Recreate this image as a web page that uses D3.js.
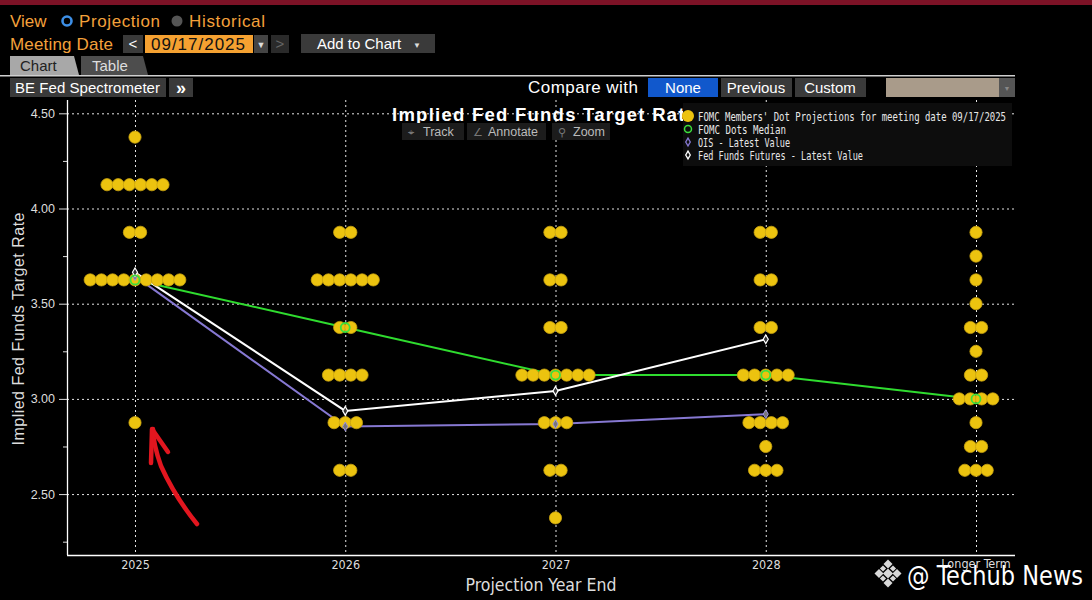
<!DOCTYPE html>
<html><head><meta charset="utf-8">
<script src="https://cdn.jsdelivr.net/npm/d3@7"></script>
<style>
html,body{margin:0;padding:0;background:#000;overflow:hidden}
svg{display:block}
</style></head><body>
<svg id="c" width="1092" height="600"></svg>
<script>
// ---------- DATA ----------
const categories = ["2025","2026","2027","2028","Longer Term"];
// FOMC dot projections: [rate, number of participants]
const dots2025 = [[4.375,1],[4.125,6],[3.875,2],[3.625,9],[2.875,1]];
const dots2026 = [[3.875,2],[3.625,6],[3.375,2],[3.125,4],[2.875,3],[2.625,2]];
const dots2027 = [[3.875,2],[3.625,2],[3.375,2],[3.125,7],[2.875,3],[2.625,2],[2.375,1]];
const dots2028 = [[3.875,2],[3.625,2],[3.375,2],[3.125,5],[2.875,4],[2.75,1],[2.625,3]];
const dotsLonger = [[3.875,1],[3.75,1],[3.625,1],[3.5,1],[3.375,2],[3.25,1],[3.125,2],[3.0,4],[2.875,1],[2.75,2],[2.625,3]];
const dotSets = [dots2025, dots2026, dots2027, dots2028, dotsLonger];
const medianValues = [3.625, 3.375, 3.125, 3.125, 3.0];
const oisValues = [3.645, 2.855, 2.868, 2.92];
const futuresValues = [3.665, 2.937, 3.042, 3.313];
const yMajorTicks = [2.5, 3.0, 3.5, 4.0, 4.5];
const yMinorTicks = [2.25, 2.75, 3.25, 3.75, 4.25];
const legendLabels = ["FOMC Members' Dot Projections for meeting date 09/17/2025","FOMC Dots Median","OIS - Latest Value","Fed Funds Futures - Latest Value"];

// ---------- SETUP ----------
const svg = d3.select("#c");
const orange = "#f4a13b";
const narrow = "'Liberation Sans Narrow','DejaVu Sans Condensed','Liberation Sans',sans-serif";
const sans = "'Liberation Sans',Arial,sans-serif";

const L = 67, R = 1015, T = 100, B = 555;
const y = d3.scaleLinear().domain([2.18, 4.57]).range([B, T]);
const x = d3.scalePoint().domain(categories).range([135, 976]);
const dotStep = 11.2, dotR = 6.1;

// ---------- HEADER ----------
svg.append("rect").attr("x",0).attr("y",0).attr("width",1092).attr("height",5).attr("fill","#7c1226");
const hdr = svg.append("g").attr("font-family",sans).attr("font-size",17);
hdr.append("text").attr("x",10).attr("y",27).attr("fill",orange).text("View");
hdr.append("circle").attr("cx",67).attr("cy",21).attr("r",4.5).attr("fill","#000").attr("stroke","#3d8fe6").attr("stroke-width",2.6);
hdr.append("text").attr("x",79).attr("y",27).attr("fill",orange).attr("textLength",81).text("Projection");
hdr.append("circle").attr("cx",177).attr("cy",21).attr("r",5.5).attr("fill","#555");
hdr.append("text").attr("x",189).attr("y",27).attr("fill",orange).attr("textLength",76).text("Historical");
hdr.append("text").attr("x",10).attr("y",50).attr("fill",orange).attr("textLength",103).text("Meeting Date");
hdr.append("rect").attr("x",123).attr("y",35).attr("width",20).attr("height",18).attr("fill","#3a3a3a");
hdr.append("text").attr("x",133).attr("y",49).attr("text-anchor","middle").attr("fill","#fff").attr("font-size",15).text("<");
hdr.append("rect").attr("x",145).attr("y",35).attr("width",108).attr("height",18).attr("fill","#f5a131");
hdr.append("text").attr("x",151).attr("y",50).attr("fill","#111").attr("font-size",17).attr("textLength",94).text("09/17/2025");
hdr.append("rect").attr("x",254).attr("y",35).attr("width",14).attr("height",18).attr("fill","#444");
hdr.append("text").attr("x",261).attr("y",48).attr("text-anchor","middle").attr("fill","#ddd").attr("font-size",9).text("▼");
hdr.append("rect").attr("x",271).attr("y",35).attr("width",18).attr("height",18).attr("fill","#2a2a2a");
hdr.append("text").attr("x",280).attr("y",49).attr("text-anchor","middle").attr("fill","#666").attr("font-size",15).text(">");
hdr.append("rect").attr("x",301).attr("y",34).attr("width",134).attr("height",19).attr("fill","#3a3a3a");
hdr.append("text").attr("x",317).attr("y",49).attr("fill","#fff").attr("font-size",15).text("Add to Chart");
hdr.append("text").attr("x",413).attr("y",48).attr("fill","#ddd").attr("font-size",8).text("▼");
// tabs
hdr.append("path").attr("d","M10,75 L10,56 L74,56 L79,75 Z").attr("fill","#a8a8a8");
hdr.append("text").attr("x",20).attr("y",71).attr("fill","#222").attr("font-size",15).text("Chart");
hdr.append("path").attr("d","M81,75 L81,56 L143,56 L148,75 Z").attr("fill","#4d4d4d");
hdr.append("text").attr("x",92).attr("y",71).attr("fill","#ddd").attr("font-size",15).text("Table");
hdr.append("rect").attr("x",0).attr("y",75).attr("width",1015).attr("height",1.5).attr("fill","#cfcfcf");
hdr.append("rect").attr("x",10).attr("y",78).attr("width",156).attr("height",19).attr("fill","#3a3a3a");
hdr.append("text").attr("x",15).attr("y",93).attr("fill","#fff").attr("font-size",15).attr("textLength",145).text("BE Fed Spectrometer");
hdr.append("rect").attr("x",169).attr("y",78).attr("width",24).attr("height",19).attr("fill","#3a3a3a");
hdr.append("text").attr("x",181).attr("y",94).attr("text-anchor","middle").attr("fill","#fff").attr("font-size",18).attr("font-weight","bold").text("»");
hdr.append("text").attr("x",528).attr("y",93).attr("fill","#fff").attr("font-size",17).attr("textLength",110).text("Compare with");
hdr.append("rect").attr("x",648).attr("y",78).attr("width",70).attr("height",19).attr("fill","#1158cc");
hdr.append("text").attr("x",683).attr("y",93).attr("text-anchor","middle").attr("fill","#fff").attr("font-size",15).text("None");
hdr.append("rect").attr("x",721).attr("y",78).attr("width",71).attr("height",19).attr("fill","#3a3a3a");
hdr.append("text").attr("x",756).attr("y",93).attr("text-anchor","middle").attr("fill","#fff").attr("font-size",15).text("Previous");
hdr.append("rect").attr("x",795).attr("y",78).attr("width",71).attr("height",19).attr("fill","#3a3a3a");
hdr.append("text").attr("x",830).attr("y",93).attr("text-anchor","middle").attr("fill","#fff").attr("font-size",15).text("Custom");
hdr.append("rect").attr("x",886).attr("y",78).attr("width",113).attr("height",19).attr("fill","#a99b8a");
hdr.append("rect").attr("x",999).attr("y",78).attr("width",16).attr("height",19).attr("fill","#555");
hdr.append("text").attr("x",1007).attr("y",91).attr("text-anchor","middle").attr("fill","#888").attr("font-size",7).text("▼");

// ---------- GRID ----------
const grid = svg.append("g").attr("stroke","#e6e6e6").attr("stroke-width",1).attr("stroke-dasharray","2,3");
grid.selectAll("line.h").data(yMajorTicks).join("line").attr("class","h")
  .attr("x1",L).attr("x2",R).attr("y1",d=>y(d)+0.5).attr("y2",d=>y(d)+0.5);
grid.selectAll("line.v").data(categories).join("line").attr("class","v")
  .attr("x1",d=>x(d)+0.5).attr("x2",d=>x(d)+0.5).attr("y1",T).attr("y2",B);

// ---------- AXES ----------
const yAxis = svg.append("g").attr("transform",`translate(${L},0)`)
  .call(d3.axisLeft(y).tickValues(yMajorTicks).tickFormat(d3.format(".2f")).tickSize(8).tickSizeOuter(0));
yAxis.select(".domain").remove();
yAxis.selectAll("line").attr("stroke","#ddd");
yAxis.selectAll("text").attr("fill","#ddd").attr("font-family",sans).attr("font-size",12.5).attr("dx",-1);
svg.append("g").attr("transform",`translate(${L},0)`)
  .call(d3.axisLeft(y).tickValues(yMinorTicks).tickFormat("").tickSize(4).tickSizeOuter(0))
  .call(g=>g.select(".domain").remove()).selectAll("line").attr("stroke","#ddd");
svg.append("line").attr("x1",L+0.5).attr("x2",L+0.5).attr("y1",T).attr("y2",B).attr("stroke","#fff").attr("stroke-width",1.3);
svg.append("line").attr("x1",L).attr("x2",R).attr("y1",B+0.5).attr("y2",B+0.5).attr("stroke","#fff").attr("stroke-width",1.3);
const xAxis = svg.append("g").attr("transform",`translate(0,${B})`)
  .call(d3.axisBottom(x).tickValues(categories.slice(0,4)).tickSize(0).tickPadding(5));
xAxis.select(".domain").remove();
xAxis.selectAll("text").attr("fill","#ddd").attr("font-family",narrow).attr("font-size",12.5);

svg.append("text").attr("x",541).attr("y",591).attr("text-anchor","middle").attr("fill","#ddd")
  .attr("font-family",narrow).attr("font-size",17.5).text("Projection Year End");
svg.append("text").attr("transform","translate(24,329) rotate(-90)").attr("text-anchor","middle").attr("fill","#ddd")
  .attr("font-family",sans).attr("font-size",16).attr("textLength",233).text("Implied Fed Funds Target Rate");

// ---------- LINES ----------
const line = d3.line().x(d=>x(d.c)).y(d=>y(d.v));
const medPts = medianValues.map((v,i)=>({c:categories[i],v}));
const oisPts = oisValues.map((v,i)=>({c:categories[i],v}));
const futPts = futuresValues.map((v,i)=>({c:categories[i],v}));
svg.append("path").datum(medPts).attr("d",line).attr("fill","none").attr("stroke","#2fdc2f").attr("stroke-width",2);
svg.append("path").datum(oisPts).attr("d",line).attr("fill","none").attr("stroke","#8678d2").attr("stroke-width",2);
svg.append("path").datum(futPts).attr("d",line).attr("fill","none").attr("stroke","#ffffff").attr("stroke-width",2);

// ---------- DOTS ----------
const dotData = [];
dotSets.forEach((set,i)=>set.forEach(([rate,n])=>{
  for(let j=0;j<n;j++) dotData.push({c:categories[i], rate, off:(j-(n-1)/2)*dotStep});
}));
svg.append("g").selectAll("circle").data(dotData).join("circle")
  .attr("cx",d=>x(d.c)+d.off).attr("cy",d=>y(d.rate)).attr("r",dotR)
  .attr("fill","#ecc30f").attr("stroke","#c9a310").attr("stroke-width",0.8);

// markers
const diamond = d3.symbol().type(d3.symbolDiamond).size(22);
svg.append("g").selectAll("path").data(oisPts).join("path").attr("d",diamond)
  .attr("transform",d=>`translate(${x(d.c)},${y(d.v)})`).attr("fill","#777").attr("stroke","#9a8fe0").attr("stroke-width",1);
svg.append("g").selectAll("path").data(futPts).join("path").attr("d",diamond)
  .attr("transform",d=>`translate(${x(d.c)},${y(d.v)})`).attr("fill","#333").attr("stroke","#fff").attr("stroke-width",1.2);
svg.append("g").selectAll("circle").data(medPts).join("circle")
  .attr("cx",d=>x(d.c)).attr("cy",d=>y(d.v)).attr("r",4.5).attr("fill","none").attr("stroke","#3ce03c").attr("stroke-width",1.8);

// ---------- TITLE / TOOLBAR / LEGEND ----------
svg.append("text").attr("x",392).attr("y",121).attr("fill","#fff").attr("font-family",sans)
  .attr("font-weight","bold").attr("font-size",18.5).attr("textLength",304).text("Implied Fed Funds Target Rate");
const tb = svg.append("g").attr("font-family",sans).attr("font-size",12.5).attr("fill","#aaa");
[[402,62,"⌖","Track"],[467,79,"∠","Annotate"],[552,58,"⚲","Zoom"]].forEach(([bx,w,ic,t])=>{
  tb.append("rect").attr("x",bx).attr("y",123).attr("width",w).attr("height",17).attr("fill","#1c1c1c");
  tb.append("text").attr("x",bx+6).attr("y",136).attr("fill","#777").attr("font-size",11).text(ic);
  tb.append("text").attr("x",bx+21).attr("y",136).attr("fill","#bbb").text(t);
});
const lg = svg.append("g");
lg.append("rect").attr("x",683).attr("y",103).attr("width",329).attr("height",63).attr("fill","#0d0d0d");
const lgY = [116,129,142,155];
lg.append("circle").attr("cx",688).attr("cy",lgY[0]).attr("r",6).attr("fill","#ecc30f");
lg.append("circle").attr("cx",688).attr("cy",lgY[1]).attr("r",3.5).attr("fill","none").attr("stroke","#3ce03c").attr("stroke-width",1.5);
lg.append("path").attr("d",d3.symbol().type(d3.symbolDiamond).size(18)).attr("transform",`translate(688,${lgY[2]})`).attr("fill","none").attr("stroke","#8678d2").attr("stroke-width",1.3);
lg.append("path").attr("d",d3.symbol().type(d3.symbolDiamond).size(18)).attr("transform",`translate(688,${lgY[3]})`).attr("fill","none").attr("stroke","#fff").attr("stroke-width",1.3);
const lgW = [308, 88, 92, 165];
lg.selectAll("text").data(legendLabels).join("text")
  .attr("x",698).attr("y",(d,i)=>lgY[i]+4.5).attr("fill","#e8e8e8")
  .attr("font-family","'DejaVu Sans Mono',monospace").attr("font-size",11.5)
  .attr("textLength",(d,i)=>lgW[i]).attr("lengthAdjust","spacingAndGlyphs").text(d=>d);

// ---------- ANNOTATIONS (red arrow + watermark) ----------
const red = "#e2161f";
svg.append("path").attr("d","M197,524 C184,508 170,486 161,466 C156,452 153,440 153,429")
  .attr("fill","none").attr("stroke",red).attr("stroke-width",4.5).attr("stroke-linecap","round");
svg.append("path").attr("d","M151,463 L152,429 L168,452")
  .attr("fill","none").attr("stroke",red).attr("stroke-width",4.5).attr("stroke-linecap","round").attr("stroke-linejoin","round");

svg.append("text").attr("x",976).attr("y",568).attr("text-anchor","middle").attr("fill","#ddd")
  .attr("font-family",narrow).attr("font-size",12.5).text("Longer Term");
const wm = svg.append("g").attr("fill","#d8d8d8");
// Binance-style logo made of small diamonds
[[888,564,3.2],[879,573.5,3.2],[897,573.5,3.2],[888,573.5,3.6],[888,583,3.2],[883,568.5,2.2],[893,568.5,2.2],[883,578.5,2.2],[893,578.5,2.2]].forEach(([cx,cy,s])=>{
  wm.append("rect").attr("x",cx-s).attr("y",cy-s).attr("width",2*s).attr("height",2*s)
    .attr("transform",`rotate(45,${cx},${cy})`);
});
wm.append("text").attr("x",907).attr("y",585).attr("fill","#fff").attr("font-family",narrow)
  .attr("font-size",27).attr("textLength",176).attr("lengthAdjust","spacingAndGlyphs").text("@ Techub News");
</script>
</body></html>
